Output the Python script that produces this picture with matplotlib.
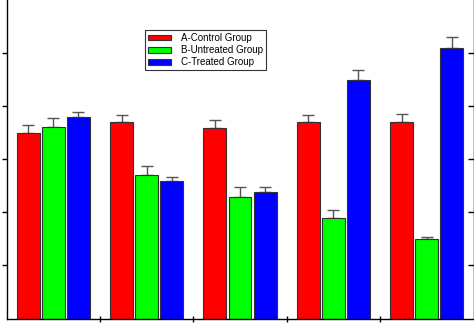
import matplotlib
matplotlib.use("Agg")
import matplotlib.pyplot as plt
import numpy as np

groups = ["1", "2", "3", "4", "5"]
series_names = ["A-Control Group", "B-Untreated Group", "C-Treated Group"]
control = [3.49, 3.70, 3.58, 3.70, 3.70]
untreated = [3.60, 2.70, 2.28, 1.89, 1.49]
treated = [3.79, 2.58, 2.38, 4.49, 5.09]
control_err = [0.15, 0.13, 0.15, 0.13, 0.15]
untreated_err = [0.17, 0.17, 0.19, 0.15, 0.04]
treated_err = [0.09, 0.09, 0.09, 0.19, 0.21]
colors = ["#ff0000", "#00ff00", "#0000ff"]

plt.rcParams["font.family"] = ["Liberation Sans", "DejaVu Sans"]

W, H = 474, 323
fig = plt.figure(figsize=(W / 100, H / 100), dpi=100)
ax = fig.add_axes([6.5 / W, 4.5 / H, 467 / W, 319 / H])

x = np.arange(len(groups))
width = 0.246
step = 0.268
values = [control, untreated, treated]
errors = [control_err, untreated_err, treated_err]

handles = []
for i, (vals, errs, color, name) in enumerate(zip(values, errors, colors, series_names)):
    pos = x + (i - 1) * step
    bars = ax.bar(pos, vals, width, color=color, edgecolor="#333333",
                  linewidth=0.8, label=name, zorder=2)
    ax.errorbar(pos, vals, yerr=[np.zeros(len(errs)), errs], fmt="none",
                ecolor="#555555", elinewidth=1.0, capsize=4.3, capthick=1.0,
                zorder=1)
    handles.append(bars)

ax.set_xlim(-0.5, 4.5)
ax.set_ylim(0, 6)
ax.set_xticks(x[:-1] + 0.5)
ax.set_xticklabels([])
ax.set_yticks([1, 2, 3, 4, 5])
ax.set_yticklabels([])
ax.tick_params(axis="x", direction="inout", length=5, width=1.0, color="black")
ax.tick_params(axis="y", direction="out", length=3.5, width=1.0, color="black")
ax.spines["top"].set_visible(False)
for side in ["left", "right", "bottom"]:
    ax.spines[side].set_linewidth(1.0)

right = ax.secondary_yaxis("right")
right.set_yticks([1, 2, 3, 4, 5])
right.set_yticklabels([])
right.tick_params(direction="in", length=4, width=1.0)

leg = ax.legend(handles=handles, loc="upper left",
                bbox_to_anchor=(145 / W, 1 - 30 / H), bbox_transform=fig.transFigure,
                fontsize=7, frameon=True, fancybox=False, borderpad=0.3,
                labelspacing=0.22, handlelength=2.4, handleheight=0.55,
                handletextpad=1.0, borderaxespad=0)
leg.get_frame().set_edgecolor("black")
leg.get_frame().set_linewidth(0.8)

fig.savefig("out.png", dpi=100)
